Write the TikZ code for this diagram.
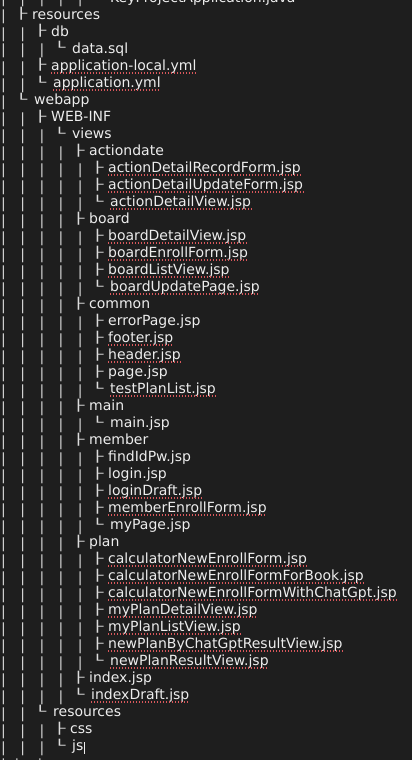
\documentclass[tikz,border=0pt]{standalone}
\usepackage{fontspec}
\setmainfont{DejaVu Sans}
\usepackage{tikz}
\usepackage{xcolor}

\definecolor{editorbg}{HTML}{1E1E1E}
\definecolor{treetext}{HTML}{EDEDED}
\definecolor{spellred}{HTML}{D9585C}

\tikzset{
	entry/.style={anchor=base west, inner sep=0pt, text=treetext, font=\fontsize{14}{17}\selectfont},
	treepipe/.style={anchor=base, inner sep=0pt, text=treetext!90!editorbg, font=\fontsize{14}{17}\selectfont},
	branch/.style={anchor=base, inner sep=0pt, text=treetext!92!editorbg, font=\fontsize{11}{12}\selectfont},
	spell/.style={spellred, line width=1.5pt, dash pattern=on 1.4pt off 1.6pt},
	cursor/.style={treetext, line width=0.8pt}
}

\begin{document}
\begin{tikzpicture}[x=1pt, y=-1pt]
				% Paths, nodes and wires:
				\fill[editorbg] (0,0) rectangle (412,760);
				\useasboundingbox (0,0) rectangle (412,760);
				\clip (0,0) rectangle (412,760);
				% depth / branch offset (0 = tee, 2 = corner) / name / spell mark
				\foreach \d/\o/\t/\u [count=\i from 0] in {
					5/2/KeyProjectApplication.java/0,
					1/0/resources/0,
					2/0/db/0,
					3/2/data.sql/0,
					2/0/application-local.yml/1,
					2/2/application.yml/1,
					1/2/webapp/0,
					2/0/WEB-INF/0,
					3/2/views/0,
					4/0/actiondate/0,
					5/0/actionDetailRecordForm.jsp/1,
					5/0/actionDetailUpdateForm.jsp/1,
					5/2/actionDetailView.jsp/1,
					4/0/board/0,
					5/0/boardDetailView.jsp/1,
					5/0/boardEnrollForm.jsp/1,
					5/0/boardListView.jsp/1,
					5/2/boardUpdatePage.jsp/1,
					4/0/common/0,
					5/0/errorPage.jsp/0,
					5/0/footer.jsp/1,
					5/0/header.jsp/1,
					5/0/page.jsp/0,
					5/2/testPlanList.jsp/1,
					4/0/main/0,
					5/2/main.jsp/0,
					4/0/member/0,
					5/0/findIdPw.jsp/0,
					5/0/login.jsp/0,
					5/0/loginDraft.jsp/1,
					5/0/memberEnrollForm.jsp/1,
					5/2/myPage.jsp/0,
					4/0/plan/0,
					5/0/calculatorNewEnrollForm.jsp/1,
					5/0/calculatorNewEnrollFormForBook.jsp/1,
					5/0/calculatorNewEnrollFormWithChatGpt.jsp/1,
					5/0/myPlanDetailView.jsp/1,
					5/0/myPlanListView.jsp/1,
					5/0/newPlanByChatGptResultView.jsp/1,
					5/2/newPlanResultView.jsp/1,
					4/0/index.jsp/0,
					4/2/indexDraft.jsp/1,
					2/2/resources/0,
					3/0/css/0,
					3/2/js/0}{
					\foreach \k in {1,...,\d}
						\node[treepipe] (p\i-\k) at (3.5+19.2*\k-19.2, 4+17*\i) {|};
					\node[branch] (b\i) at (2.2+19.1*\d, 1+17*\i) {\scalebox{1.8}[1]{\ifnum\o=0 ├\else └\fi}};
					\node[entry] (r\i) at (13+19*\d+\o, 2.5+17*\i) {\t};
					\ifnum\u=1
						\draw[spell] ([yshift=-2.5pt]r\i.base west) -- ([yshift=-2.5pt]r\i.base east);
					\fi
				}
				% cut-off line at the bottom
				\node[treepipe] (q1) at (3.5, 769) {|};
				\node[treepipe] (q2) at (17, 769) {|};
				\node[treepipe] (q3) at (40, 769) {|};
				% text cursor
				\draw[cursor] ([xshift=1.2pt,yshift=-3.3pt]r44.base east) -- ([xshift=1.2pt,yshift=8.5pt]r44.base east);
			\end{tikzpicture}
\end{document}
